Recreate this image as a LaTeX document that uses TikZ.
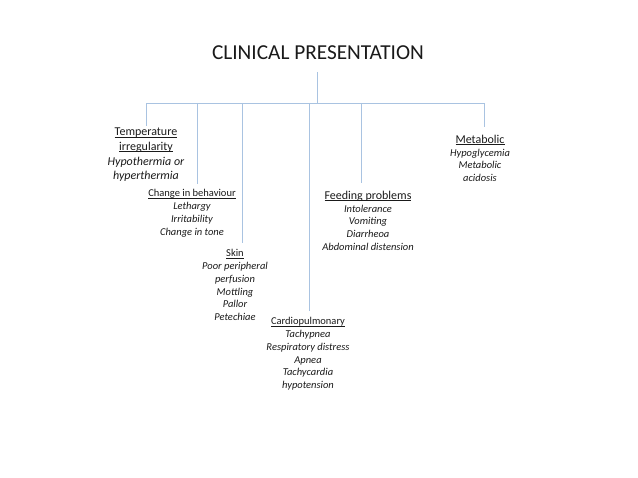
\documentclass[tikz,border=0pt]{standalone}
\usepackage{fontspec}
\setmainfont{Carlito}
\usetikzlibrary{positioning}
\definecolor{branch}{HTML}{A9C3E1}
\definecolor{ink}{HTML}{1A1A1A}
% underlined heading line, upright, optional size
\newcommand{\hd}[2][10.5]{{\fontsize{#1}{#1}\selectfont\upshape
  \setbox0\hbox{#2}\rlap{\rule[-1.4pt]{\wd0}{0.55pt}}\box0}}

\begin{document}
\begin{tikzpicture}[x=1pt,y=-1pt,
    group/.style={align=center, inner sep=0pt, anchor=north, text=ink,
                  font=\fontsize{10.5}{12.7}\selectfont\itshape},
    biggroup/.style={group, font=\fontsize{12}{14.6}\selectfont\itshape},
    wire/.style={draw=branch, line width=0.9pt}]
  \useasboundingbox (0,0) rectangle (638,478);

  \node[text=ink, inner sep=0pt, font=\fontsize{21.3}{25}\selectfont] (title) at (318,53) {CLINICAL PRESENTATION};

  % groups
  \node[biggroup] (temp) at (146,128)
    {\hd[12]{Temperature}\\\hd[12]{irregularity}\\Hypothermia or\\hyperthermia};
  \node[group] (beh) at (192,189.5)
    {\hd{Change in behaviour}\\Lethargy\\Irritability\\Change in tone};
  \node[group] (skin) at (235,249.5)
    {\hd{Skin}\\Poor peripheral\\perfusion\\Mottling\\Pallor\\Petechiae};
  \node[group] (cardio) at (308,317.5)
    {\hd{Cardiopulmonary}\\Tachypnea\\Respiratory distress\\Apnea\\Tachycardia\\hypotension};
  \node[group] (feed) at (368,191)
    {\hd[12]{Feeding problems}\\Intolerance\\Vomiting\\Diarrheoa\\Abdominal distension};
  \node[group] (meta) at (480,135)
    {\hd[12]{Metabolic}\\Hypoglycemia\\Metabolic\\acidosis};

  % tree lines
  \coordinate (top) at (317,72);
  \coordinate (hub) at (317,103);
  \coordinate (fTemp) at (146,126);
  \coordinate (fBeh) at (197,184);
  \coordinate (fSkin) at (242,243);
  \coordinate (fCardio) at (309,311);
  \coordinate (fFeed) at (361,183);
  \coordinate (fMeta) at (484,127);

  \draw[wire] (top) -- (hub);
  \draw[wire] (fTemp) -- (fTemp |- hub) -- (fMeta |- hub) -- (fMeta);
  \foreach \f in {fBeh,fSkin,fCardio,fFeed}
    \draw[wire] (\f |- hub) -- (\f);
\end{tikzpicture}
\end{document}
